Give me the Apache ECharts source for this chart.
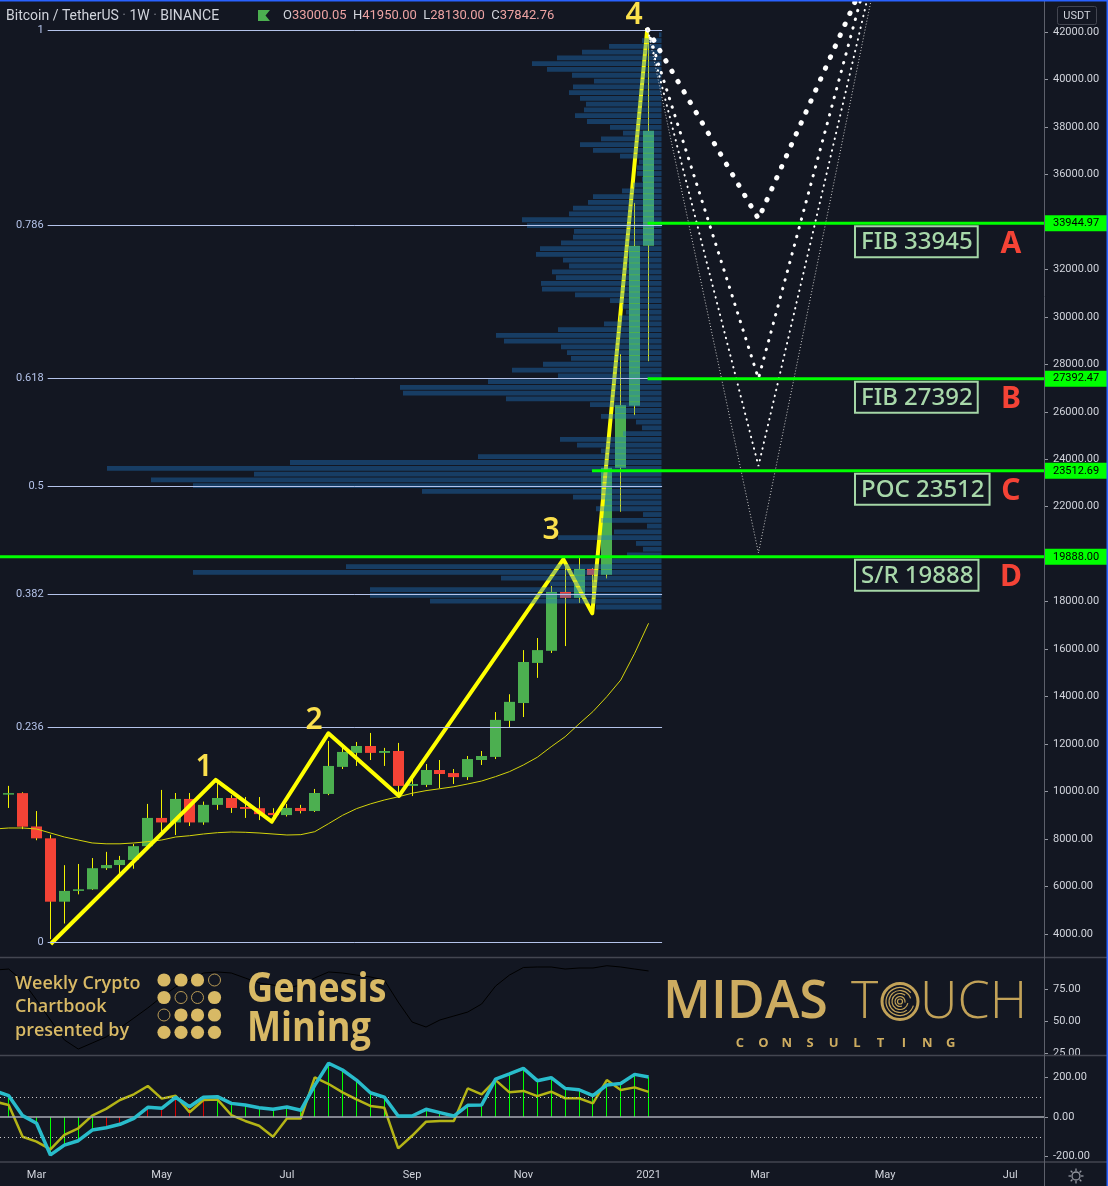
<!DOCTYPE html>
<html><head><meta charset="utf-8">
<script src="https://cdn.jsdelivr.net/npm/echarts@6.0.0/dist/echarts.min.js"></script>
<style>html,body{margin:0;padding:0;background:#131722;overflow:hidden}#c{width:1108px;height:1186px}</style>
</head><body><div id="c"></div>
<script>
// ---------------- DATA (weekly BTCUSDT, week index 0 = 2020-02-10) ----------------
const opens  = [10150,9880,9935,8530,8030,5361,5816,5882,6772,6905,7120,7700,8890,8700,9690,8700,9440,9730,9350,9300,9100,9010,9310,9180,9900,11040,11630,11920,11630,11710,10240,10280,10910,10780,10610,11330,11460,12980,13730,15420,15930,18410,18160,19380,19130,23640,26250,33000.05];
const highs  = [10500,10240,9970,9180,8180,6900,6950,7200,7460,7290,7790,9480,10070,9940,9940,9580,10490,9850,9770,9770,9300,9480,9440,10110,12130,11880,12090,12470,11840,12050,10570,11160,11330,10950,11500,11710,13350,14100,15960,16470,18660,19500,19888,19420,24300,28430,34800,41950];
const lows   = [9640,9310,8420,7950,3782,4442,5670,5860,6700,6555,6750,7660,8200,8170,8550,8600,9230,9100,8890,8800,8900,8950,9080,9140,9850,10950,11080,11330,11080,9770,9810,10190,10150,10320,10490,11120,11370,12720,13140,14790,15840,16130,17950,17650,18980,21790,25860,28130];
const closes = [9917,9935,8520,8030,5361,5816,5882,6772,6905,7120,7700,8890,8700,9690,8700,9440,9730,9310,9270,9050,9010,9310,9180,9940,11080,11670,11920,11630,11710,10240,10320,10910,10740,10610,11370,11500,13020,13780,15460,15960,18410,18160,19380,19130,23640,26280,33000,37842.76];
const ma20   = [8424,8466,8466,8424,8255,8087,7960,7835,7800,7800,7835,7890,7960,8087,8140,8213,8268,8297,8285,8255,8213,8171,8185,8310,8650,9000,9280,9480,9645,9780,9930,10040,10120,10205,10320,10445,10630,10840,11120,11445,11890,12310,12850,13370,14000,14700,15825,17090];

// x-axis tick labels (week index -> text)
const xTickIdx  = [3,12,21,30,38,47,55,64,73];
const xTickText = ['Mar','May','Jul','Sep','Nov','2021','Mar','May','Jul'];
const priceTicks = [4000,6000,8000,10000,12000,14000,16000,18000,20000,22000,24000,26000,28000,30000,32000,34000,36000,38000,40000,42000];

// zigzag 1-2-3-4 (week index, price)
const zzIdx   = [4.02,15.88,19.91,23.98,29.06,40.87,42.95,46.91];
const zzPrice = [3580,10490,8730,12455,9815,19786,17510,42160];
const zzLabels = [['1',15.04,11036],['2',22.95,13016],['3',39.99,21020],['4',45.95,42716]];

// fibonacci retracement
const fibLevels = [0,0.236,0.382,0.5,0.618,0.786,1];
const fibLow = 3663, fibHigh = 42084, fibStartIdx = 3.8, fibEndIdx = 47.97;

// key levels
const levelPrice  = [33944.97,27392.47,23512.69,19888.00];
const levelStart  = [46.93,46.93,42.93,0];
const levelText   = ['FIB 33945','FIB 27392','POC 23512','S/R 19888'];
const levelLetter = ['A','B','C','D'];
const boxIdx = 61.84, letterIdx = 73.05;

// projected dotted paths (start, bottom, exit at top)
const projStart = [46.93,42100];
const projBottomIdx = 54.9;
const projBottom = [34130,27400,23716,20056];
const projEndIdx = [61.9,62.24,62.71,63.0];

// volume profile (visible range), 100 rows, relative volume
const vpTopPrice = 41982.75, vpRowSize = 243.5;
const vpVolumes = [2.5,19.5,52.5,79.5,104.5,129.5,114.5,89.5,67.5,88.5,
 92.5,81.5,75.5,77.5,86.5,74.5,51.5,38.5,60.5,81.5,
 68.5,41.5,22.5,24.5,24.5,19.5,28.5,39.5,68.5,73.5,
 88.5,92.5,139.5,134.5,87.5,88.5,100.5,121.5,125.5,98.5,
 92.5,109.5,105.5,120.5,119.5,86.5,51.5,39.5,35.5,42.5,
 57.5,103.5,165.5,157.5,100.5,94.5,90.5,118.5,149.5,103.5,
 173.5,261.5,258.5,155.5,71.5,46.5,60.5,25.5,19.5,38.5,
 101.5,84.5,60.5,183.5,371.5,554.5,407.5,510.5,468.5,239.5,
 88.5,56.5,65.5,18.5,60.5,14.5,47.5,103.5,25.5,18.5,
 34.5,49.5,315.5,468.5,160.5,111.5,291.5,291.5,231.5,65.5];

// oscillator pane (RSI-like)
const rsi = [89.8,90.6,81.3,66.4,50.8,35.2,28.1,32.8,37.5,44.5,52.3,60.2,68.8,76.6,82,87.5,88.3,87.5,83.6,79.7,78.1,75.8,78.1,83.6,88.3,87.5,85.9,84.4,82,64.8,49.2,45.3,50.8,53.9,57,63.3,77.3,85.9,91.8,92.2,92.2,90.6,91.4,91.4,93.2,92.2,90.6,89.1];
// CCI-like pane
const cciFast = [132,108,7,-32,-192,-142,-120,-66,-54,-37,-7,49,44,100,52,100,103,69,61,47,39,51,34,160,272,238,187,123,101,5,5,39,22,5,59,61,192,218,246,184,199,145,138,108,162,170,216,203];
const cciSlow = [78,61,-100,-125,-164,-91,-57,7,41,86,115,157,93,108,24,86,89,10,-20,-44,-100,-7,-7,201,167,125,89,56,47,-159,-95,-24,-20,-20,145,115,187,125,132,106,128,95,95,69,187,137,150,127];
const histColor = 'wgwgggggrrrrrrrrgggggggggggggggggggggggggggggggg';

// ---------------- LAYOUT ----------------
const PX_W = 13.91, PLOT_W = 1044;
const XMIN = 5.2 / PX_W, XMAX = XMIN + PLOT_W / PX_W;
const BG = '#131722', TXT = '#d1d4dc', SEP = '#434651', GOLD = '#d8b965';
const font = 'Roboto';

const chart = echarts.init(document.getElementById('c'));

const candleData = opens.map((o, i) => [i, o, closes[i], lows[i], highs[i]]);
const vpData = vpVolumes.map((v, k) => [v, vpTopPrice - (k + 0.5) * vpRowSize]);

function candleItem(params, api) {
  const i = api.value(0), o = api.value(1), c = api.value(2), l = api.value(3), h = api.value(4);
  const pO = api.coord([i, o]), pC = api.coord([i, c]), pL = api.coord([i, l]), pH = api.coord([i, h]);
  const cx = pO[0];
  const wx = Math.floor(cx) + 0.5;
  const bw = 11;
  const top = Math.min(pO[1], pC[1]);
  const ht = Math.max(1.5, Math.abs(pO[1] - pC[1]));
  return { type: 'group', children: [
    { type: 'line', shape: { x1: wx, y1: pH[1], x2: wx, y2: pL[1] }, style: { stroke: '#f2f200', lineWidth: 1 } },
    { type: 'rect', shape: { x: Math.round(cx - bw / 2), y: top, width: bw, height: ht }, style: { fill: c >= o ? '#4caf50' : '#f44336' } }
  ]};
}

function vpItem(params, api) {
  const v = api.value(0), p = api.value(1);
  const a = api.coord([v, p + vpRowSize / 2]);
  const b = api.coord([0, p - vpRowSize / 2]);
  return { type: 'rect', shape: { x: a[0], y: a[1], width: b[0] - a[0], height: Math.max(1, b[1] - a[1] - 1) },
    style: { fill: 'rgba(30,120,200,0.40)' } };
}

function fibItem(params, api) {
  const s = api.value(0), p = api.value(1), lv = api.value(2);
  const a = api.coord([s, p]), b = api.coord([fibEndIdx, p]);
  const y = Math.round(a[1]) + 0.5;
  return { type: 'group', children: [
    { type: 'line', shape: { x1: a[0], y1: y, x2: b[0], y2: y }, style: { stroke: '#b4c3ea', lineWidth: 1 } },
    { type: 'text', style: { text: String(lv), x: a[0] - 4, y: y, fill: '#b4c3ea', fontSize: 11, fontFamily: font, align: 'right', verticalAlign: 'middle' } }
  ]};
}

function histItem(params, api) {
  const i = api.value(0), v = api.value(1);
  const a = api.coord([i, v]), b = api.coord([i, 0]);
  const code = histColor[params.dataIndex];
  const col = code === 'g' ? '#00ff00' : (code === 'r' ? '#d50000' : '#d1d4dc');
  const x = Math.floor(a[0]) + 0.5;
  return { type: 'line', shape: { x1: x, y1: a[1], x2: x, y2: b[1] }, style: { stroke: col, lineWidth: 1 } };
}

// text annotations anchored to (week index, price) through the axes
function textItem(style, dx, dy) {
  return function (params, api) {
    const p = api.coord([api.value(0), api.value(1)]);
    const s = Object.assign({ text: String(api.value(2)), x: p[0] + dx, y: p[1] + dy }, style);
    return { type: 'text', style: s };
  };
}

const series = [];
series.push({ type: 'custom', name: 'BTCUSDT', xAxisIndex: 0, yAxisIndex: 0, renderItem: candleItem, data: candleData, clip: true, z: 2 });
series.push({ type: 'line', xAxisIndex: 0, yAxisIndex: 0, data: ma20.map((v, i) => [i, v]), symbol: 'none', lineStyle: { color: '#d4d40c', width: 1 }, z: 3 });
series.push({ type: 'line', xAxisIndex: 0, yAxisIndex: 0, data: zzIdx.map((x, i) => [x, zzPrice[i]]), symbol: 'none', lineStyle: { color: '#ffff00', width: 4, join: 'round' }, z: 4 });
series.push({ type: 'custom', xAxisIndex: 1, yAxisIndex: 1, renderItem: vpItem, data: vpData, z: 5, clip: true });
series.push({ type: 'custom', xAxisIndex: 0, yAxisIndex: 0, renderItem: fibItem, data: fibLevels.map(l => [fibStartIdx, fibLow + l * (fibHigh - fibLow), l]), z: 6 });
const projStyles = [
  { color: '#ffffff', width: 5, type: [0.5, 11.5], cap: 'round' },
  { color: '#ffffff', width: 3, type: [0.5, 8.5], cap: 'round' },
  { color: '#ffffff', width: 2, type: [0.5, 5.5], cap: 'round' },
  { color: '#c8c8c8', width: 1, type: [1, 2] }
];
projBottom.forEach((pb, j) => {
  series.push({ type: 'line', xAxisIndex: 0, yAxisIndex: 0, symbol: 'none', z: 7,
    data: [projStart, [projBottomIdx, pb], [projEndIdx[j], 43348]], lineStyle: projStyles[j] });
});
levelPrice.forEach((p, j) => {
  series.push({ type: 'line', xAxisIndex: 0, yAxisIndex: 0, symbol: 'none', z: 8,
    data: [[levelStart[j], p], [XMAX, p]], lineStyle: { color: '#00ff00', width: 3 },
    endLabel: { show: true, formatter: () => p.toFixed(2), color: '#000', backgroundColor: '#00ff00', padding: [3, 8, 2, 9], distance: 0, fontSize: 11, fontFamily: font } });
});
// level boxes
series.push({ type: 'custom', xAxisIndex: 0, yAxisIndex: 0, z: 9, silent: true,
  data: levelPrice.map((p, j) => [boxIdx, p, levelText[j]]),
  renderItem: function (params, api) {
    const p = api.coord([api.value(0), api.value(1)]);
    return { type: 'text', style: { text: String(api.value(2)), x: p[0], y: p[1] + 3, fill: '#a8d8aa', fontSize: 24, fontFamily: 'Noto Sans', fontWeight: 500,
      align: 'left', verticalAlign: 'top', lineHeight: 28, borderColor: '#a5d6a7', borderWidth: 2, padding: [2, 5, 1, 6] } };
  } });
series.push({ type: 'custom', xAxisIndex: 0, yAxisIndex: 0, z: 9, silent: true,
  data: levelPrice.map((p, j) => [letterIdx, p, levelLetter[j]]),
  renderItem: textItem({ fill: '#f44336', fontSize: 30, fontFamily: 'Noto Sans', fontWeight: 'bold', align: 'center', verticalAlign: 'middle' }, 0, 21) });
series.push({ type: 'custom', xAxisIndex: 0, yAxisIndex: 0, z: 9, silent: true,
  data: zzLabels.map(d => [d[1], d[2], d[0]]),
  renderItem: textItem({ fill: '#fbe04c', fontSize: 30, fontFamily: 'Noto Sans', fontWeight: 600, align: 'center', verticalAlign: 'middle' }, 0, 0) });
series.push({ type: 'line', xAxisIndex: 2, yAxisIndex: 2, symbol: 'none', data: rsi.map((v, i) => [i, v]), lineStyle: { color: '#000000', width: 1 }, z: 3 });
series.push({ type: 'custom', xAxisIndex: 3, yAxisIndex: 3, renderItem: histItem, data: cciFast.map((v, i) => [i, v]), z: 3, clip: true });
series.push({ type: 'line', xAxisIndex: 3, yAxisIndex: 3, symbol: 'none', data: cciSlow.map((v, i) => [i, v]), lineStyle: { color: '#b4b416', width: 2.5 }, z: 4,
  markLine: { silent: true, symbol: 'none', label: { show: false }, animation: false,
    data: [
      { yAxis: 0, lineStyle: { color: '#a9acb5', width: 1.5, type: 'solid' } },
      { yAxis: 100, lineStyle: { color: '#c8c8c8', width: 1, type: [1, 3] } },
      { yAxis: -100, lineStyle: { color: '#c8c8c8', width: 1, type: [1, 3] } }
    ] } });
series.push({ type: 'line', xAxisIndex: 3, yAxisIndex: 3, symbol: 'none', data: cciFast.map((v, i) => [i, v]), lineStyle: { color: '#29bccb', width: 3.5 }, z: 5 });

const axisLbl = { color: TXT, fontSize: 11, fontFamily: font, margin: 9 };
const yCommon = { type: 'value', position: 'right', axisLine: { show: false }, splitLine: { show: false },
  axisTick: { show: true, length: 4, lineStyle: { color: '#9598a1' } } };
const hiddenAxis = { show: false, axisLine: { show: false }, axisTick: { show: false }, axisLabel: { show: false }, splitLine: { show: false } };

// ---------------- GRAPHICS ----------------
const G = [];
G.push({ type: 'line', shape: { x1: 0, y1: 957.5, x2: 1108, y2: 957.5 }, style: { stroke: SEP, lineWidth: 1.5 }, z: 50 });
G.push({ type: 'line', shape: { x1: 0, y1: 1055.5, x2: 1108, y2: 1055.5 }, style: { stroke: SEP, lineWidth: 1.5 }, z: 50 });
G.push({ type: 'line', shape: { x1: 0, y1: 1162, x2: 1108, y2: 1162 }, style: { stroke: SEP, lineWidth: 1.5 }, z: 50 });
G.push({ type: 'line', shape: { x1: 1044.5, y1: 0, x2: 1044.5, y2: 1186 }, style: { stroke: '#5d606b', lineWidth: 1 }, z: 50 });
G.push({ type: 'rect', shape: { x: 0, y: 0, width: 1108, height: 1.5 }, style: { fill: '#2962ff' }, z: 60 });
G.push({ type: 'rect', shape: { x: 1106.5, y: 0, width: 1.5, height: 1186 }, style: { fill: '#2962ff' }, z: 60 });
G.push({ type: 'text', x: 6, y: 16, z: 60, style: { text: '{a|Bitcoin / TetherUS}{d| · }{a|1W}{d| · }{a|BINANCE}', fontSize: 14, fontFamily: font, verticalAlign: 'middle',
  rich: { a: { fill: TXT, fontSize: 14, fontFamily: font }, d: { fill: '#787b86', fontSize: 14, fontFamily: font } } } });
G.push({ type: 'polygon', shape: { points: [[258, 10], [270, 10], [265.5, 15.5], [270, 21], [258, 21]] }, style: { fill: '#4caf50' }, z: 60 });
const last = opens.length - 1;
G.push({ type: 'text', x: 283, y: 16, z: 60, style: {
  text: '{l|O}{v|' + opens[last].toFixed(2) + '}  {l|H}{v|' + highs[last].toFixed(2) + '}  {l|L}{v|' + lows[last].toFixed(2) + '}  {l|C}{v|' + closes[last].toFixed(2) + '}',
  fontSize: 13, fontFamily: font, verticalAlign: 'middle',
  rich: { l: { fill: TXT, fontSize: 13, fontFamily: font }, v: { fill: '#eda3a3', fontSize: 13, fontFamily: font } } } });
G.push({ type: 'rect', shape: { x: 1057.5, y: 6.5, width: 39, height: 18, r: 2 }, style: { fill: BG, stroke: SEP, lineWidth: 1 }, z: 60 });
G.push({ type: 'text', x: 1077, y: 16, z: 61, style: { text: 'USDT', fill: TXT, fontSize: 11, fontFamily: font, align: 'center', verticalAlign: 'middle' } });
const gear = [{ type: 'circle', shape: { cx: 1076, cy: 1176, r: 4 }, style: { fill: 'none', stroke: '#9598a1', lineWidth: 1.3 } }];
for (let k = 0; k < 8; k++) {
  const a = k * Math.PI / 4;
  gear.push({ type: 'line', shape: { x1: 1076 + 5 * Math.cos(a), y1: 1176 + 5 * Math.sin(a), x2: 1076 + 7.5 * Math.cos(a), y2: 1176 + 7.5 * Math.sin(a) }, style: { stroke: '#9598a1', lineWidth: 1.3 } });
}
G.push({ type: 'group', z: 60, children: gear });
[['Weekly Crypto', 984], ['Chartbook', 1007], ['presented by', 1031]].forEach(t => {
  G.push({ type: 'text', x: 15, y: t[1], z: 60, style: { text: t[0], fill: GOLD, fontSize: 18, fontFamily: 'Open Sans', fontWeight: 600, verticalAlign: 'middle' } });
});
const dotPattern = ['1110', '1001', '0111', '1111'];
const dotX = [164, 181, 197.5, 214.5], dotY = [980, 997.5, 1015, 1032.3];
dotPattern.forEach((row, r) => row.split('').forEach((c, k) => {
  G.push({ type: 'circle', z: 60, shape: { cx: dotX[k], cy: dotY[r], r: c === '1' ? 6.6 : 6 },
    style: c === '1' ? { fill: GOLD } : { fill: 'none', stroke: '#b89a55', lineWidth: 1 } });
}));
G.push({ type: 'text', x: 247, y: 990, scaleX: 0.86, z: 60, style: { text: 'Genesis', fill: GOLD, fontSize: 42, fontFamily: 'Open Sans', fontWeight: 'bold', verticalAlign: 'middle' } });
G.push({ type: 'text', x: 247, y: 1029, scaleX: 0.86, z: 60, style: { text: 'Mining', fill: GOLD, fontSize: 42, fontFamily: 'Open Sans', fontWeight: 'bold', verticalAlign: 'middle' } });
const MG = '#cdac60';
G.push({ type: 'text', x: 663, y: 1003, z: 60, style: { text: 'MIDAS', fill: MG, fontSize: 52, fontFamily: 'Open Sans', fontWeight: 600, verticalAlign: 'middle' } });
G.push({ type: 'text', x: 851, y: 1003, z: 60, style: { text: 'T', fill: '#c2a258', fontSize: 52, fontFamily: 'Open Sans', fontWeight: 300, verticalAlign: 'middle' } });
G.push({ type: 'text', x: 920, y: 1003, z: 60, style: { text: 'UCH', fill: '#c2a258', fontSize: 52, fontFamily: 'Open Sans', fontWeight: 300, verticalAlign: 'middle' } });
const fp = [{ type: 'circle', shape: { cx: 900, cy: 1001.5, r: 18 }, style: { fill: 'none', stroke: '#c2a258', lineWidth: 3 } }];
[[14, 0.3, 5.6], [11, 0.9, 6.0], [8, 0.2, 5.4], [5, 1.2, 6.5], [2.5, 0, 6.28]].forEach(a => {
  fp.push({ type: 'arc', shape: { cx: 900, cy: 1001.5, r: a[0], startAngle: a[1], endAngle: a[2] }, style: { fill: 'none', stroke: '#c2a258', lineWidth: 1.2 } });
});
G.push({ type: 'group', z: 60, children: fp });
'CONSULTING'.split('').forEach((ch, k) => {
  G.push({ type: 'text', x: 740 + k * 23.4, y: 1043, z: 60, style: { text: ch, fill: MG, fontSize: 13, fontFamily: 'Open Sans', fontWeight: 'bold', align: 'center', verticalAlign: 'middle' } });
});

const option = {
  backgroundColor: BG,
  animation: false,
  textStyle: { fontFamily: font },
  grid: [
    { left: 0, top: 0, width: PLOT_W, height: 957 },
    { left: 0, top: 0, width: 661.5, height: 957 },
    { left: 0, top: 958, width: PLOT_W, height: 98 },
    { left: 0, top: 1056, width: PLOT_W, height: 106 }
  ],
  xAxis: [
    Object.assign({ type: 'value', gridIndex: 0, min: XMIN, max: XMAX }, hiddenAxis),
    Object.assign({ type: 'value', gridIndex: 1, min: 0, max: 661.5, inverse: true }, hiddenAxis),
    Object.assign({ type: 'value', gridIndex: 2, min: XMIN, max: XMAX }, hiddenAxis),
    { type: 'value', gridIndex: 3, min: XMIN, max: XMAX, axisLine: { show: false }, axisTick: { show: false }, splitLine: { show: false },
      axisLabel: { customValues: xTickIdx, color: TXT, fontSize: 11, fontFamily: font, margin: 8,
        formatter: v => { const j = xTickIdx.indexOf(Math.round(v)); return j >= 0 ? xTickText[j] : ''; } } }
  ],
  yAxis: [
    Object.assign({}, yCommon, { gridIndex: 0, min: 3031, max: 43348,
      axisTick: Object.assign({}, yCommon.axisTick, { customValues: priceTicks }),
      axisLabel: Object.assign({}, axisLbl, { customValues: priceTicks, formatter: v => v.toFixed(2) }) }),
    Object.assign({ type: 'value', gridIndex: 1, min: 3031, max: 43348, position: 'right' }, hiddenAxis),
    Object.assign({}, yCommon, { gridIndex: 2, min: 22.66, max: 99.22,
      axisTick: Object.assign({}, yCommon.axisTick, { customValues: [25, 50, 75] }),
      axisLabel: Object.assign({}, axisLbl, { customValues: [25, 50, 75], formatter: v => v.toFixed(2) }) }),
    Object.assign({}, yCommon, { gridIndex: 3, min: -227.8, max: 308.9,
      axisTick: Object.assign({}, yCommon.axisTick, { customValues: [-200, 0, 200] }),
      axisLabel: Object.assign({}, axisLbl, { customValues: [-200, 0, 200], formatter: v => v.toFixed(2) }) })
  ],
  graphic: { elements: G },
  series: series
};
chart.setOption(option);
</script>
</body></html>
